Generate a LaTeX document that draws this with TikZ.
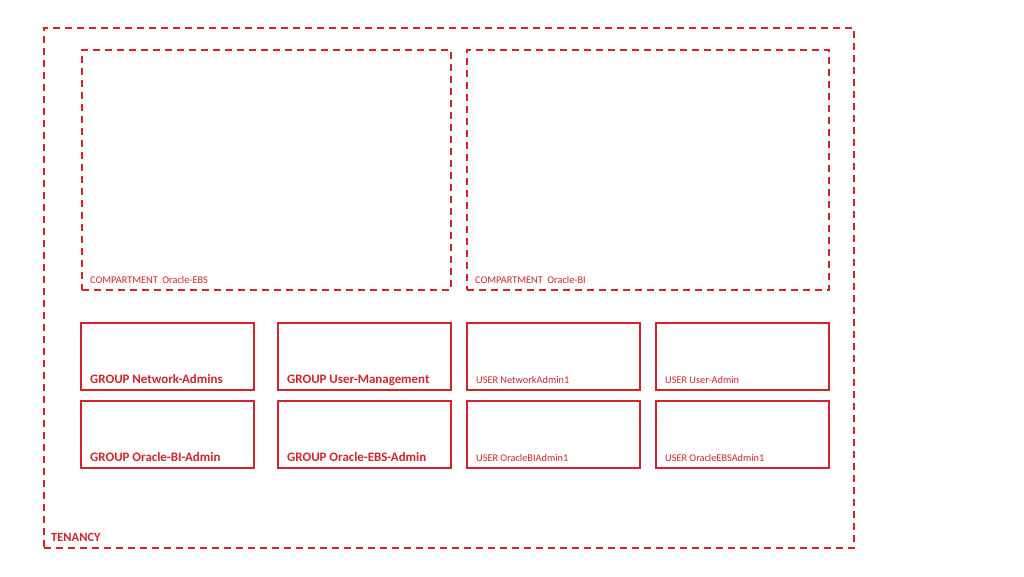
\documentclass[tikz,border=0pt]{standalone}
\usepackage{fontspec}
\setmainfont{Carlito}
\usepackage{tikz}
\usetikzlibrary{positioning}
\definecolor{oracred}{HTML}{D52329}

\begin{document}
\begin{tikzpicture}[
    x=1pt, y=-1pt,
    area/.style={draw=oracred, line width=1.6pt, dash pattern=on 7pt off 5pt, inner sep=0pt, outer sep=0pt, anchor=north west},
    box/.style={draw=oracred, line width=1.4pt, minimum width=173pt, minimum height=67pt, inner sep=0pt, outer sep=0pt, anchor=north west},
    grouptext/.style={text=oracred, font=\fontsize{12.9}{14}\selectfont\bfseries, anchor=base west, inner sep=0pt},
    usertext/.style={text=oracred, font=\fontsize{10.3}{12}\selectfont, anchor=base west, inner sep=0pt}
]
\useasboundingbox (0,0) rectangle (1024,576);

% Areas :
\node[area, minimum width=810pt, minimum height=520pt] (tenancy) at (44, 28) {};
\node[area, minimum width=369pt, minimum height=240pt] (ebs) at (82, 50) {};
\node[area, minimum width=362pt, minimum height=240pt] (bi) at (467, 50) {};

\node[grouptext, font=\fontsize{12.5}{14}\selectfont\bfseries] (tenancylbl) at ([xshift=7pt, yshift=7pt]tenancy.south west) {TENANCY};
\node[usertext] (ebslbl) at ([xshift=8pt, yshift=7pt]ebs.south west) {COMPARTMENT\ \ Oracle-EBS};
\node[usertext] (bilbl) at ([xshift=8pt, yshift=7pt]bi.south west) {COMPARTMENT\ \ Oracle-BI};

% Groups :
\node[box] (netadmins) at (81, 323) {};
\node[box] (usermgmt) at (278, 323) {};
\node[box] (biadmin) at (81, 401) {};
\node[box] (ebsadmin) at (278, 401) {};

\node[grouptext] at ([xshift=9pt, yshift=7pt]netadmins.south west) {GROUP Network-Admins};
\node[grouptext] at ([xshift=9pt, yshift=7pt]usermgmt.south west) {GROUP User-Management};
\node[grouptext] at ([xshift=9pt, yshift=7pt]biadmin.south west) {GROUP Oracle-BI-Admin};
\node[grouptext] at ([xshift=9pt, yshift=7pt]ebsadmin.south west) {GROUP Oracle-EBS-Admin};

% Users :
\node[box] (netadmin1) at (467, 323) {};
\node[box] (useradmin) at (656, 323) {};
\node[box] (biadmin1) at (467, 401) {};
\node[box] (ebsadmin1) at (656, 401) {};

\node[usertext] at ([xshift=9pt, yshift=7pt]netadmin1.south west) {USER NetworkAdmin1};
\node[usertext] at ([xshift=9pt, yshift=7pt]useradmin.south west) {USER User-Admin};
\node[usertext] at ([xshift=9pt, yshift=7pt]biadmin1.south west) {USER OracleBIAdmin1};
\node[usertext] at ([xshift=9pt, yshift=7pt]ebsadmin1.south west) {USER OracleEBSAdmin1};

\end{tikzpicture}
\end{document}
